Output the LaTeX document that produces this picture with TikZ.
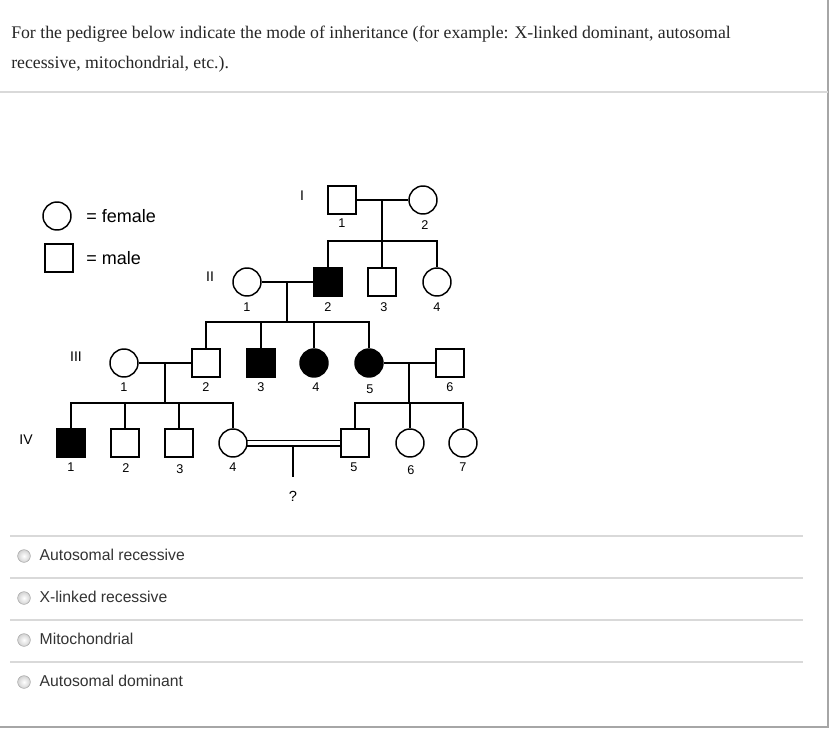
\documentclass[tikz,border=0pt]{standalone}
\usepackage{fontspec}
\setmainfont{Liberation Serif}
\newfontfamily\arial{Liberation Sans}
\begin{document}
\begin{tikzpicture}[x=0.75pt,y=-0.75pt,
  ln/.style={line width=1.1pt},
  male/.style={draw,line width=1.1pt,minimum size=21pt,inner sep=0pt},
  female/.style={draw,circle,line width=1.1pt,minimum size=21pt,inner sep=0pt},
  aff/.style={fill=black},
  num/.style={font=\arial\fontsize{9.5}{10}\selectfont},
  gen/.style={font=\arial\fontsize{10.5}{11}\selectfont},
  opt/.style={font=\arial\fontsize{11.8}{12}\selectfont,text=black!80,anchor=west},
  radio/.style={circle,draw=gray!70,inner color=white,outer color=gray!35,minimum size=9.5pt,inner sep=0pt},
  sep/.style={draw=gray!30,line width=0.8pt}]
\useasboundingbox (0,0) rectangle (831,732);
\fill[white] (0,0) rectangle (831,732);
\draw[gray!70,line width=1pt] (828,0) -- (828,727) -- (0,727);
\node[anchor=base west,inner sep=0pt,font=\fontsize{13.3}{15}\selectfont,text=black!85] (t1) at (11,38) {For the pedigree below indicate the mode of inheritance (for example: X-linked dominant, autosomal};
\node[anchor=base west,inner sep=0pt,font=\fontsize{13.3}{15}\selectfont,text=black!85] (t2) at (11,68) {recessive, mitochondrial, etc.).};
\draw[sep] (0,92) -- (828,92);
% legend
\node[female] (lf) at (57,216) {};
\node[anchor=west,inner sep=0pt,font=\arial\fontsize{13.5}{14}\selectfont] (lft) at (86,216) {= female};
\node[male] (lm) at (59,258) {};
\node[anchor=west,inner sep=0pt,font=\arial\fontsize{13.5}{14}\selectfont] (lmt) at (86,258) {= male};
% generation labels
\node[gen] (gI) at (302,196) {I};
\node[gen] (gII) at (210,277) {II};
\node[gen] (gIII) at (76,357) {III};
\node[gen] (gIV) at (26,440) {IV};
% gen I
\node[male] (i1) at (342,200) {};
\node[female] (i2) at (423,200) {};
\coordinate (m1) at (382,200);
\coordinate (s1) at (382,241);
\draw[ln] (i1) -- (i2);
\draw[ln] (m1) -- (s1);
% gen II
\node[female] (ii1) at (247,282) {};
\node[male,aff] (ii2) at (328,282) {};
\node[male] (ii3) at (382,282) {};
\node[female] (ii4) at (437,282) {};
\draw[ln] (ii2.north) |- (s1) -| (ii4.north);
\draw[ln] (s1) -- (ii3.north);
\draw[ln] (ii1) -- (ii2);
\coordinate (m2) at (287,282);
\coordinate (s2) at (287,322);
\draw[ln] (m2) -- (s2);
% gen III
\node[female] (iii1) at (124,363) {};
\node[male] (iii2) at (206,363) {};
\node[male,aff] (iii3) at (261,363) {};
\node[female,aff] (iii4) at (314,363) {};
\node[female,aff] (iii5) at (369,363) {};
\node[male] (iii6) at (450,363) {};
\draw[ln] (iii2.north) |- (s2) -| (iii5.north);
\draw[ln] (iii3.north) -- (iii3.north |- s2);
\draw[ln] (iii4.north) -- (iii4.north |- s2);
\draw[ln] (iii1) -- (iii2);
\draw[ln] (iii5) -- (iii6);
\coordinate (m3) at (165,363);
\coordinate (s3) at (165,403);
\coordinate (m4) at (409,363);
\coordinate (s4) at (409,403);
\draw[ln] (m3) -- (s3);
\draw[ln] (m4) -- (s4);
% gen IV
\node[male,aff] (iv1) at (71,443) {};
\node[male] (iv2) at (125,443) {};
\node[male] (iv3) at (179,443) {};
\node[female] (iv4) at (233,443) {};
\node[male] (iv5) at (355,443) {};
\node[female] (iv6) at (410,443) {};
\node[female] (iv7) at (463,443) {};
\draw[ln] (iv1.north) |- (s3) -| (iv4.north);
\draw[ln] (iv2.north) -- (iv2.north |- s3);
\draw[ln] (iv3.north) -- (iv3.north |- s3);
\draw[ln] (iv5.north) |- (s4) -| (iv7.north);
\draw[ln] (iv6.north) -- (iv6.north |- s4);
\coordinate (da) at (246,440.3);
\coordinate (db) at (246,446);
\draw[ln] (da) -- (da -| iv5.west);
\draw[ln] (db) -- (db -| iv5.west);
\coordinate (m5) at (293,446);
\coordinate (q) at (293,477);
\draw[ln] (m5) -- (q);
\node[font=\arial\fontsize{11}{12}\selectfont] (qm) at (293,496) {?};
% numbers
\foreach \n/\x/\y/\t in {n11/342/223/1,n12/425/225/2,
  n21/247/307/1,n22/328/307/2,n23/384/307/3,n24/437/307/4,
  n31/124/387/1,n32/206/387/2,n33/261/387/3,n34/316/387/4,n35/370/389/5,n36/450/387/6,
  n41/71/467/1,n42/126/468/2,n43/180/469/3,n44/233/467/4,n45/354/467/5,n46/411/470/6,n47/463/467/7}
  \node[num] (\n) at (\x,\y) {\t};
% options
\draw[sep] (10,536) -- (803,536);
\draw[sep] (10,578) -- (803,578);
\draw[sep] (10,620) -- (803,620);
\draw[sep] (10,662) -- (803,662);
\node[radio] (r1) at (24,556) {};
\node[opt] (o1) at (35,555) {Autosomal recessive};
\node[radio] (r2) at (24,598) {};
\node[opt] (o2) at (35,597) {X-linked recessive};
\node[radio] (r3) at (24,640) {};
\node[opt] (o3) at (35,639) {Mitochondrial};
\node[radio] (r4) at (24,682) {};
\node[opt] (o4) at (35,681) {Autosomal dominant};
\end{tikzpicture}
\end{document}
